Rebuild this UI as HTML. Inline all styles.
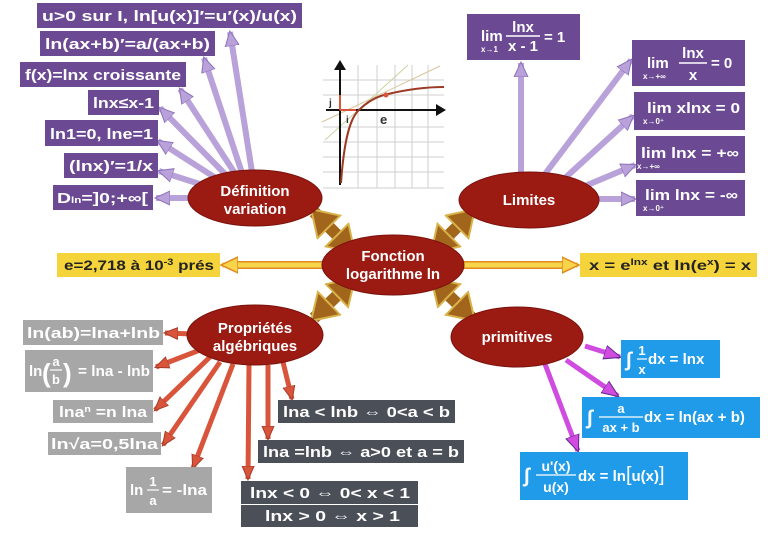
<!DOCTYPE html>
<html><head><meta charset="utf-8"><style>
html,body{margin:0;padding:0;background:#fff;}
svg{display:block;}
text{font-family:"Liberation Sans","DejaVu Sans",sans-serif;font-weight:bold;}
</style></head><body>
<svg width="768" height="556" viewBox="0 0 768 556" xmlns="http://www.w3.org/2000/svg">
<defs>
<marker id="mp" markerUnits="userSpaceOnUse" markerWidth="20" markerHeight="20" refX="14" refY="8" orient="auto"><path d="M0,1 L15,8 L0,15 Z" fill="#b8a2d9" stroke="#8e70bd" stroke-width="1"/></marker>
<marker id="mr" markerUnits="userSpaceOnUse" markerWidth="20" markerHeight="20" refX="13" refY="7" orient="auto"><path d="M0,1 L14,7 L0,13 Z" fill="#d8553c" stroke="#a83a28" stroke-width="1"/></marker>
<marker id="mm" markerUnits="userSpaceOnUse" markerWidth="24" markerHeight="20" refX="16" refY="8" orient="auto"><path d="M0,1 L17,8 L0,15 Z" fill="#d04ce0" stroke="#5a2a8a" stroke-width="1"/></marker>
<marker id="mg" markerUnits="userSpaceOnUse" markerWidth="40" markerHeight="40" refX="22" refY="17" orient="auto-start-reverse"><path d="M1,1 L26,17 L1,33 Z" fill="#a2651c" stroke="#d8b24a" stroke-width="2"/></marker>
<marker id="my" markerUnits="userSpaceOnUse" markerWidth="22" markerHeight="22" refX="16" refY="9" orient="auto"><path d="M0,1 L17,9 L0,17 Z" fill="#f7d54a" stroke="#e08a20" stroke-width="1.5"/></marker>
</defs>

<!-- graph -->
<g stroke="#cfcfcf" stroke-width="1">
<line x1="323" y1="80" x2="444" y2="80"/><line x1="323" y1="95" x2="444" y2="95"/>
<line x1="323" y1="127" x2="444" y2="127"/><line x1="323" y1="142" x2="444" y2="142"/>
<line x1="323" y1="157" x2="444" y2="157"/><line x1="323" y1="172" x2="444" y2="172"/>
<line x1="323" y1="188" x2="444" y2="188"/>
<line x1="358" y1="65" x2="358" y2="188"/><line x1="377" y1="65" x2="377" y2="188"/>
<line x1="395" y1="65" x2="395" y2="188"/><line x1="412" y1="65" x2="412" y2="188"/>
<line x1="428" y1="65" x2="428" y2="188"/>
</g>
<line x1="322" y1="122" x2="440" y2="66" stroke="#d6c49a" stroke-width="1"/>
<line x1="325" y1="140" x2="408" y2="65" stroke="#c8d4a0" stroke-width="1"/>
<line x1="340" y1="185" x2="340" y2="68" stroke="#111" stroke-width="2"/>
<path d="M334,70 L340,60 L346,70 Z" fill="#111"/>
<line x1="326" y1="110" x2="438" y2="110" stroke="#111" stroke-width="2"/>
<path d="M436,104 L446,110 L436,116 Z" fill="#111"/>
<path d="M341,183 C344,140 350,118 359,110 C368,101 378,96 388,94 C405,90 425,87 444,87" fill="none" stroke="#9c3a24" stroke-width="2"/>
<line x1="340" y1="110" x2="340" y2="95" stroke="#d8553c" stroke-width="2"/>
<line x1="340" y1="110" x2="356" y2="110" stroke="#d8553c" stroke-width="2"/>
<circle cx="386" cy="95" r="2.5" fill="#d8553c"/>
<text x="329" y="106" font-size="10" font-weight="normal" fill="#333">j</text>
<text x="346" y="123" font-size="10" font-weight="normal" fill="#333">i</text>
<text x="380" y="124" font-size="13" font-weight="normal" fill="#333">e</text>

<!-- purple arrows (definition) -->
<g stroke="#b8a2d9" stroke-width="6" marker-end="url(#mp)">
<line x1="252" y1="172" x2="230" y2="32"/>
<line x1="242" y1="173" x2="204" y2="58"/>
<line x1="236" y1="175" x2="180" y2="89"/>
<line x1="229" y1="178" x2="160" y2="108"/>
<line x1="222" y1="182" x2="158" y2="141"/>
<line x1="212" y1="188" x2="159" y2="171"/>
<line x1="192" y1="198" x2="156" y2="198"/>
</g>
<!-- limites arrows -->
<g stroke="#b8a2d9" stroke-width="6" marker-end="url(#mp)">
<line x1="521" y1="172" x2="521" y2="63"/>
<line x1="545" y1="174" x2="631" y2="60"/>
<line x1="565" y1="178" x2="633" y2="116"/>
<line x1="585" y1="186" x2="635" y2="165"/>
<line x1="598" y1="199" x2="635" y2="199"/>
</g>
<!-- red arrows -->
<g stroke="#d8553c" stroke-width="5" marker-end="url(#mr)">
<line x1="192" y1="334" x2="165" y2="333"/>
<line x1="200" y1="350" x2="156" y2="367"/>
<line x1="210" y1="357" x2="155" y2="410"/>
<line x1="220" y1="362" x2="163" y2="445"/>
<line x1="233" y1="364" x2="193" y2="468"/>
<line x1="249" y1="365" x2="248" y2="479"/>
<line x1="268" y1="365" x2="268" y2="439"/>
<line x1="283" y1="362" x2="292" y2="399"/>
</g>
<!-- magenta arrows -->
<g stroke="#d04ce0" stroke-width="5" marker-end="url(#mm)">
<line x1="585" y1="346" x2="620" y2="357"/>
<line x1="566" y1="360" x2="618" y2="396"/>
<line x1="545" y1="364" x2="578" y2="451"/>
</g>
<!-- gold arrows -->
<g stroke="#a2651c" stroke-width="12" marker-end="url(#mg)" marker-start="url(#mg)">
<line x1="352" y1="250" x2="314" y2="212"/>
<line x1="434" y1="250" x2="472" y2="212"/>
<line x1="352" y1="281" x2="314" y2="318"/>
<line x1="434" y1="281" x2="472" y2="318"/>
</g>
<!-- yellow arrows -->
<g stroke="#e08a20" stroke-width="8"><line x1="324" y1="265" x2="232" y2="265"/><line x1="462" y1="265" x2="566" y2="265"/></g>
<g stroke="#f7d54a" stroke-width="5" marker-end="url(#my)"><line x1="324" y1="265" x2="222" y2="265"/><line x1="462" y1="265" x2="578" y2="265"/></g>

<!-- ellipses -->
<g fill="#9b1a12" stroke="#7a120c" stroke-width="1">
<ellipse cx="255" cy="198" rx="67" ry="28"/>
<ellipse cx="529" cy="200" rx="70" ry="28"/>
<ellipse cx="393" cy="265" rx="71" ry="30"/>
<ellipse cx="255" cy="335" rx="68" ry="30"/>
<ellipse cx="517" cy="337" rx="66" ry="30"/>
</g>
<g fill="#fff" font-size="15" text-anchor="middle">
<text x="255" y="196">Définition</text><text x="255" y="214">variation</text>
<text x="529" y="205">Limites</text>
<text x="393" y="261">Fonction</text><text x="393" y="279">logarithme ln</text>
<text x="255" y="333">Propriétés</text><text x="255" y="351">algébriques</text>
<text x="517" y="342">primitives</text>
</g>

<!-- purple boxes left -->
<g fill="#6c4a93">
<rect x="37" y="3" width="265" height="25"/>
<rect x="40" y="31" width="175" height="25"/>
<rect x="20" y="62" width="166" height="25"/>
<rect x="88" y="90" width="71" height="25"/>
<rect x="45" y="120" width="113" height="26"/>
<rect x="64" y="153" width="94" height="25"/>
<rect x="53" y="185" width="100" height="25"/>
</g>
<g fill="#fff" font-size="15">
<text x="42" y="21" textLength="255" lengthAdjust="spacingAndGlyphs">u&gt;0 sur I, ln[u(x)]′=u′(x)/u(x)</text>
<text x="45" y="49" textLength="165" lengthAdjust="spacingAndGlyphs">ln(ax+b)′=a/(ax+b)</text>
<text x="25" y="80" textLength="156" lengthAdjust="spacingAndGlyphs">f(x)=lnx croissante</text>
<text x="93" y="108" textLength="61" lengthAdjust="spacingAndGlyphs">lnx≤x-1</text>
<text x="50" y="139" textLength="103" lengthAdjust="spacingAndGlyphs">ln1=0, lne=1</text>
<text x="69" y="171" textLength="84" lengthAdjust="spacingAndGlyphs">(lnx)′=1/x</text>
<text x="57" y="203" textLength="91" lengthAdjust="spacingAndGlyphs">D<tspan font-size="9">ln</tspan>=]0;+∞[</text>
</g>

<!-- purple boxes right -->
<g fill="#6c4a93">
<rect x="467" y="14" width="113" height="46"/>
<rect x="632" y="40" width="113" height="46"/>
<rect x="634" y="92" width="111" height="38"/>
<rect x="636" y="136" width="109" height="37"/>
<rect x="636" y="180" width="109" height="36"/>
</g>
<g fill="#fff">
<text x="481" y="41" font-size="15">lim</text>
<text x="481" y="52" font-size="8">x→1</text>
<text x="523" y="32" font-size="15" text-anchor="middle">lnx</text>
<line x1="506" y1="36" x2="540" y2="36" stroke="#fff" stroke-width="1.5"/>
<text x="523" y="51" font-size="15" text-anchor="middle">x - 1</text>
<text x="544" y="42" font-size="15">= 1</text>

<text x="647" y="68" font-size="15">lim</text>
<text x="643" y="79" font-size="8">x→+∞</text>
<text x="693" y="58" font-size="15" text-anchor="middle">lnx</text>
<line x1="679" y1="63" x2="707" y2="63" stroke="#fff" stroke-width="1.5"/>
<text x="693" y="80" font-size="15" text-anchor="middle">x</text>
<text x="711" y="68" font-size="15">= 0</text>

<text x="647" y="113" font-size="15" textLength="93" lengthAdjust="spacingAndGlyphs">lim xlnx = 0</text>
<text x="643" y="124" font-size="8">x→0⁺</text>
<text x="641" y="158" font-size="15" textLength="98" lengthAdjust="spacingAndGlyphs">lim  lnx = +∞</text>
<text x="637" y="169" font-size="8">x→+∞</text>
<text x="645" y="200" font-size="15" textLength="93" lengthAdjust="spacingAndGlyphs">lim lnx = -∞</text>
<text x="643" y="211" font-size="8">x→0⁺</text>
</g>

<!-- yellow boxes -->
<rect x="57" y="253" width="163" height="24" fill="#f5d33a"/>
<rect x="580" y="253" width="177" height="24" fill="#f5d33a"/>
<text x="64" y="270" font-size="14" fill="#222" textLength="150" lengthAdjust="spacingAndGlyphs">e=2,718 à 10<tspan font-size="9" dy="-5">-3</tspan><tspan dy="5"> prés</tspan></text>
<text x="589" y="270" font-size="14" fill="#222" textLength="162" lengthAdjust="spacingAndGlyphs">x = e<tspan font-size="9" dy="-5">lnx</tspan><tspan dy="5"> et ln(e</tspan><tspan font-size="9" dy="-5">x</tspan><tspan dy="5">) = x</tspan></text>

<!-- gray boxes -->
<g fill="#a7a7a7">
<rect x="23" y="320" width="140" height="25"/>
<rect x="25" y="350" width="128" height="42"/>
<rect x="53" y="400" width="100" height="23"/>
<rect x="48" y="432" width="113" height="23"/>
<rect x="126" y="467" width="86" height="46"/>
</g>
<g fill="#fff" font-size="15">
<text x="27" y="338" textLength="133" lengthAdjust="spacingAndGlyphs">ln(ab)=lna+lnb</text>
<text x="29" y="376">ln</text>
<text x="42" y="382" font-size="26" font-weight="normal">(</text>
<text x="56" y="366" font-size="13" text-anchor="middle">a</text>
<line x1="50" y1="370" x2="62" y2="370" stroke="#fff" stroke-width="1.2"/>
<text x="56" y="384" font-size="13" text-anchor="middle">b</text>
<text x="63" y="382" font-size="26" font-weight="normal">)</text>
<text x="78" y="376" textLength="72" lengthAdjust="spacingAndGlyphs">= lna - lnb</text>
<text x="59" y="417" textLength="88" lengthAdjust="spacingAndGlyphs">lna<tspan font-size="9" dy="-5">n</tspan><tspan dy="5"> =n lna</tspan></text>
<text x="51" y="449" textLength="107" lengthAdjust="spacingAndGlyphs">ln√a=0,5lna</text>
<text x="130" y="495">ln</text>
<text x="153" y="486" font-size="13" text-anchor="middle">1</text>
<line x1="147" y1="490" x2="159" y2="490" stroke="#fff" stroke-width="1.2"/>
<text x="153" y="505" font-size="13" text-anchor="middle">a</text>
<text x="162" y="495" textLength="45" lengthAdjust="spacingAndGlyphs">= -lna</text>
</g>

<!-- dark boxes -->
<g fill="#4b5058">
<rect x="278" y="400" width="177" height="23"/>
<rect x="258" y="440" width="206" height="23"/>
<rect x="241" y="481" width="177" height="23"/>
<rect x="241" y="505" width="177" height="22"/>
</g>
<g fill="#fff" font-size="15">
<text x="283" y="417" textLength="167" lengthAdjust="spacingAndGlyphs">lna &lt; lnb  ⇔ 0&lt;a &lt; b</text>
<text x="263" y="457" textLength="196" lengthAdjust="spacingAndGlyphs">lna =lnb  ⇔ a&gt;0 et a = b</text>
<text x="250" y="498" textLength="160" lengthAdjust="spacingAndGlyphs">lnx &lt; 0  ⇔ 0&lt; x &lt; 1</text>
<text x="265" y="521" textLength="135" lengthAdjust="spacingAndGlyphs">lnx &gt; 0  ⇔ x &gt; 1</text>
</g>

<!-- blue boxes -->
<g fill="#1f9be9">
<rect x="621" y="340" width="99" height="38"/>
<rect x="582" y="397" width="178" height="41"/>
<rect x="520" y="452" width="168" height="48"/>
</g>
<g fill="#fff" font-size="15">
<text x="626" y="366" font-size="20" font-weight="normal">∫</text>
<text x="642" y="355" font-size="13" text-anchor="middle">1</text>
<line x1="637" y1="359" x2="647" y2="359" stroke="#fff" stroke-width="1.2"/>
<text x="642" y="374" font-size="13" text-anchor="middle">x</text>
<text x="648" y="364" font-weight="normal">dx = <tspan font-weight="bold">lnx</tspan></text>

<text x="587" y="424" font-size="20" font-weight="normal">∫</text>
<text x="621" y="413" font-size="13" text-anchor="middle">a</text>
<line x1="599" y1="417" x2="643" y2="417" stroke="#fff" stroke-width="1.2"/>
<text x="621" y="432" font-size="13" text-anchor="middle">ax + b</text>
<text x="644" y="422" font-weight="normal">dx = <tspan font-weight="bold">ln(ax + b)</tspan></text>

<text x="524" y="482" font-size="20" font-weight="normal">∫</text>
<text x="556" y="471" font-size="14" text-anchor="middle">u'(x)</text>
<line x1="536" y1="475" x2="576" y2="475" stroke="#fff" stroke-width="1.2"/>
<text x="556" y="492" font-size="14" text-anchor="middle">u(x)</text>
<text x="578" y="481" font-weight="normal">dx = <tspan font-weight="bold">ln</tspan><tspan font-size="20" font-weight="normal">[</tspan><tspan font-weight="bold">u(x)</tspan><tspan font-size="20" font-weight="normal">]</tspan></text>
</g>
</svg>
</body></html>
